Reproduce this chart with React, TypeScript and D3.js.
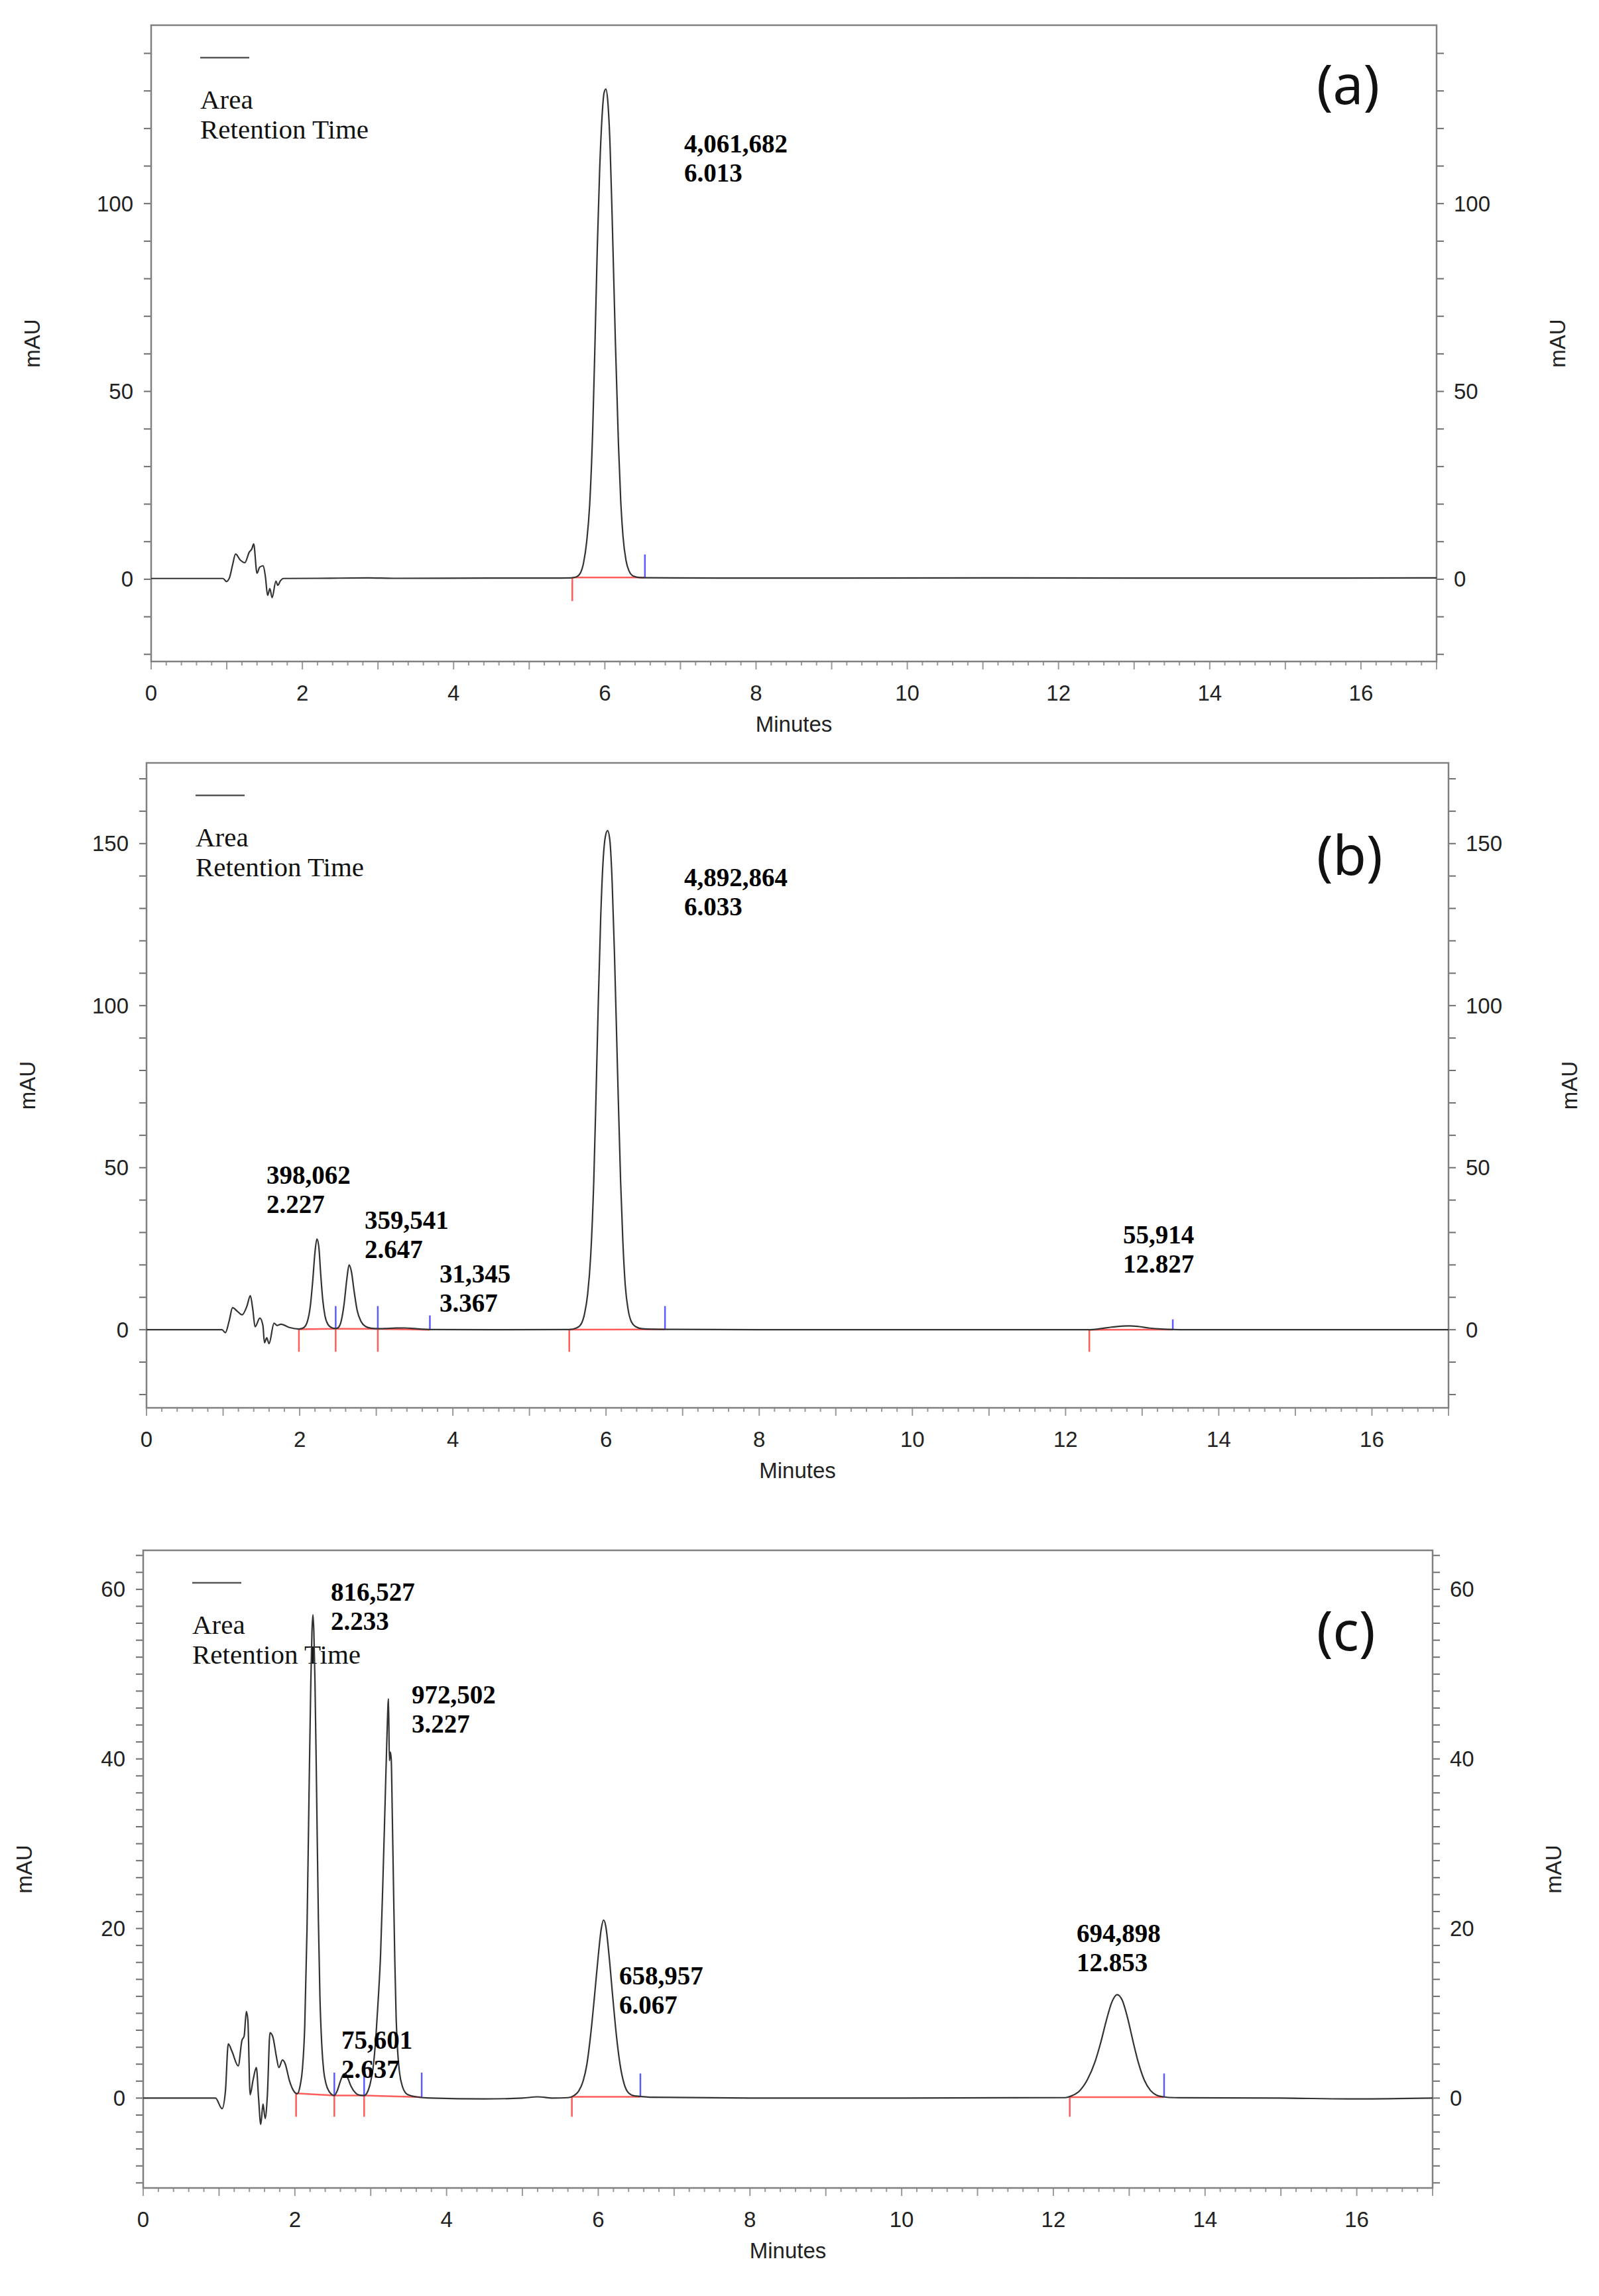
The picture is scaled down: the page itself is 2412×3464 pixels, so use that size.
import React from 'react';
import * as d3 from 'd3';

type Pt = [number, number];

// ---------- tick labels / texts ----------
const xTickLabels = [0, 2, 4, 6, 8, 10, 12, 14, 16];
const yTickLabelsA = [0, 50, 100];
const yTickLabelsB = [0, 50, 100, 150];
const yTickLabelsC = [0, 20, 40, 60];
const legendTexts = ['Area', 'Retention Time'];
const panelLabels = ['(a)', '(b)', '(c)'];

// ---------- traces: [minutes, mAU] ----------
const traceA: Pt[] = [
  [0, 0.2], [0.5, 0.2], [0.95, 0.2], [0.996, -0.6], [1.034, 0.3], [1.078, 3.9], [1.116, 6.7], [1.179, 5.1],
  [1.239, 4.4], [1.297, 7.2], [1.332, 8.1], [1.356, 9.4], [1.4, 1.6], [1.435, 3.2], [1.482, 3.6], [1.511, 0.7],
  [1.54, -4.3], [1.57, -2.5], [1.6, -4.9], [1.65, -0.5], [1.675, -1.6], [1.71, -0.4], [1.75, 0.2], [2.2, 0.25],
  [2.87, 0.35], [3.2, 0.25], [4.5, 0.3], [5.3, 0.3], [5.55, 0.35], [5.62, 0.6], [5.68, 1.8], [5.72, 4.5],
  [5.76, 10], [5.8, 20], [5.84, 40], [5.87, 63], [5.9, 88], [5.93, 108], [5.96, 122], [5.99, 129.5],
  [6.013, 130.5], [6.04, 127], [6.07, 115], [6.1, 94], [6.14, 63], [6.18, 36], [6.21, 21], [6.24, 11.5],
  [6.28, 5], [6.32, 2.2], [6.38, 0.8], [6.46, 0.45], [6.55, 0.4], [7.5, 0.3], [9, 0.3], [11, 0.35],
  [13, 0.3], [15, 0.3], [17, 0.35],
];

const traceB: Pt[] = [
  [0, 0], [0.6, 0], [0.985, 0], [1.03, -0.9], [1.08, 2.8], [1.124, 6.8], [1.186, 5.7], [1.248, 4.6],
  [1.31, 7.2], [1.356, 10.5], [1.387, 6.4], [1.418, 0.9], [1.48, 3.6], [1.52, 1.3], [1.54, -4.0], [1.57, -2.5],
  [1.6, -4.3], [1.665, 2.0], [1.705, 1.3], [1.757, 1.7], [1.865, 0.7], [1.99, 0.2], [2.05, 0.6], [2.1, 2.5],
  [2.14, 7.5], [2.17, 15], [2.2, 24], [2.225, 28], [2.25, 25.5], [2.275, 17], [2.3, 9.5], [2.33, 4.3],
  [2.37, 1.6], [2.42, 0.6], [2.47, 0.35], [2.5, 0.6], [2.54, 2.5], [2.58, 8], [2.615, 15.5], [2.645, 20],
  [2.675, 18], [2.71, 12], [2.75, 6], [2.8, 2.6], [2.86, 1.0], [2.93, 0.45], [3.02, 0.3], [3.1, 0.35],
  [3.25, 0.5], [3.37, 0.55], [3.5, 0.35], [3.6, 0.15], [3.7, 0.05], [4.5, 0], [5.52, 0.05], [5.62, 0.6],
  [5.68, 2], [5.72, 5], [5.76, 11], [5.8, 23], [5.84, 46], [5.87, 73], [5.9, 102], [5.93, 127],
  [5.96, 144], [5.99, 152], [6.02, 154], [6.05, 151], [6.08, 138], [6.11, 116], [6.15, 80], [6.19, 46],
  [6.22, 27], [6.25, 14], [6.29, 6], [6.33, 2.5], [6.39, 0.9], [6.47, 0.3], [6.6, 0.15], [6.8, 0.1],
  [8, 0], [10, 0], [12.31, 0], [12.45, 0.3], [12.6, 0.8], [12.75, 1.15], [12.83, 1.2], [12.95, 1.0],
  [13.1, 0.5], [13.25, 0.2], [13.4, 0.05], [13.6, 0], [15, 0], [17, 0],
];

const traceC: Pt[] = [
  [0, 0], [0.6, 0], [0.953, 0], [1.04, -1.25], [1.084, 0.8], [1.122, 6.4], [1.171, 5.5], [1.253, 3.8],
  [1.302, 6.8], [1.331, 7.3], [1.36, 10.2], [1.38, 9.2], [1.41, 0.4], [1.448, 2.1], [1.492, 3.6], [1.521, 0],
  [1.55, -3.1], [1.58, -0.7], [1.608, -2.4], [1.637, 0.3], [1.672, 7.7], [1.71, 7.2], [1.754, 5.0], [1.789, 3.6],
  [1.836, 4.5], [1.87, 4.1], [1.93, 2.0], [1.987, 0.8], [2.03, 0.5], [2.07, 1.5], [2.1, 3.5], [2.13, 8.5],
  [2.16, 20], [2.19, 38], [2.21, 49], [2.225, 55], [2.238, 57], [2.25, 55], [2.265, 49], [2.285, 37],
  [2.31, 21], [2.33, 12], [2.355, 6.2], [2.38, 3.2], [2.41, 1.7], [2.45, 0.8], [2.49, 0.4], [2.52, 0.3],
  [2.56, 0.9], [2.6, 2.0], [2.64, 2.8], [2.665, 2.9], [2.7, 2.3], [2.74, 1.4], [2.8, 0.6], [2.85, 0.35],
  [2.913, 0.3], [2.95, 0.6], [2.99, 1.6], [3.03, 3.5], [3.07, 7.5], [3.1, 11.8], [3.13, 17], [3.16, 25.5],
  [3.19, 35], [3.215, 43], [3.234, 47.1], [3.246, 39.8], [3.258, 40.8], [3.27, 40], [3.285, 33], [3.3, 25],
  [3.318, 16], [3.335, 9.5], [3.355, 5.5], [3.38, 3.0], [3.42, 1.3], [3.46, 0.6], [3.52, 0.3], [3.6, 0.15],
  [3.8, 0], [4.5, -0.1], [5.0, 0], [5.2, 0.15], [5.4, 0], [5.6, 0.05], [5.68, 0.3], [5.74, 0.8],
  [5.8, 2.0], [5.85, 4.0], [5.9, 7.5], [5.95, 12], [6.0, 16.8], [6.04, 20], [6.07, 21], [6.1, 20.2],
  [6.14, 17], [6.19, 12], [6.24, 7.3], [6.29, 3.8], [6.34, 1.7], [6.4, 0.6], [6.48, 0.25], [6.55, 0.2],
  [6.7, 0.1], [8, 0], [10, 0], [12.15, 0.05], [12.25, 0.3], [12.35, 0.9], [12.45, 2.2], [12.55, 4.3],
  [12.62, 6.4], [12.7, 9.2], [12.77, 11.3], [12.84, 12.2], [12.91, 11.5], [12.98, 9.4], [13.05, 6.7], [13.12, 4.2],
  [13.2, 2.1], [13.28, 0.9], [13.36, 0.35], [13.45, 0.15], [13.6, 0.05], [15, 0], [16, -0.1], [17, 0],
];

// ---------- integration baselines (red) ----------
const redSegA: Pt[][] = [[[5.57, 0.45], [6.53, 0.45]]];
const redSegB: Pt[][] = [
  [[1.99, 0.15], [2.47, 0.3], [3.02, 0.25], [3.7, 0.0]],
  [[5.52, 0.05], [6.77, 0.1]],
  [[12.31, 0.0], [13.4, 0.05]],
];
const redSegC: Pt[][] = [
  [[2.016, 0.55], [2.52, 0.3], [2.913, 0.3], [3.672, 0.1]],
  [[5.652, 0.15], [6.555, 0.15]],
  [[12.216, 0.1], [13.46, 0.1]],
];

// peak start markers [minutes, from mAU, to mAU]
const redTicksA: [number, number, number][] = [[5.57, 0.45, -5.8]];
const redTicksB: [number, number, number][] = [
  [1.99, 0.15, -6.8], [2.47, 0.3, -6.8], [3.02, 0.25, -6.8], [5.52, 0.05, -6.8], [12.31, 0, -6.8],
];
const redTicksC: [number, number, number][] = [
  [2.016, 0.55, -2.2], [2.52, 0.3, -2.2], [2.913, 0.3, -2.2], [5.652, 0.15, -2.2], [12.216, 0.1, -2.2],
];
// peak end markers
const blueTicksA: [number, number, number][] = [[6.53, 0.45, 6.6]];
const blueTicksB: [number, number, number][] = [
  [2.47, 0.3, 7.3], [3.02, 0.25, 7.3], [3.7, 0.0, 4.4], [6.77, 0.1, 7.3], [13.4, 0.05, 3.2],
];
const blueTicksC: [number, number, number][] = [
  [2.52, 0.3, 3.0], [2.913, 0.3, 3.0], [3.672, 0.1, 3.0], [6.555, 0.15, 2.9], [13.46, 0.1, 2.9],
];

// ---------- peak annotations: anchor [minutes, mAU], area, retention time ----------
const annotA = [{ t: 7.05, v: 116.1, area: '4,061,682', rt: '6.013' }];
const annotB = [
  { t: 1.567, v: 47.9, area: '398,062', rt: '2.227' },
  { t: 2.848, v: 34.0, area: '359,541', rt: '2.647' },
  { t: 3.826, v: 17.3, area: '31,345', rt: '3.367' },
  { t: 7.02, v: 139.7, area: '4,892,864', rt: '6.033' },
  { t: 12.75, v: 29.5, area: '55,914', rt: '12.827' },
];
const annotC = [
  { t: 2.474, v: 59.75, area: '816,527', rt: '2.233' },
  { t: 3.54, v: 47.63, area: '972,502', rt: '3.227' },
  { t: 2.613, v: 6.9, area: '75,601', rt: '2.637' },
  { t: 6.276, v: 14.5, area: '658,957', rt: '6.067' },
  { t: 12.307, v: 19.5, area: '694,898', rt: '12.853' },
];

// ---------- layout (pixels) ----------
const W = 2412;
const H = 3464;
const X_MAX = 17;

const panels = [
  {
    left: 228, right: 2167, top: 38, bottom: 998, yMin: -21.9, yMax: 147.5, minor: 10,
    yLabels: yTickLabelsA, trace: traceA, red: redSegA, redTicks: redTicksA, blueTicks: blueTicksA,
    annot: annotA, label: panelLabels[0], labelBase: 157,
  },
  {
    left: 221, right: 2185, top: 1151, bottom: 2124, yMin: -24.1, yMax: 174.9, minor: 10,
    yLabels: yTickLabelsB, trace: traceB, red: redSegB, redTicks: redTicksB, blueTicks: blueTicksB,
    annot: annotB, label: panelLabels[1], labelBase: 1320,
  },
  {
    left: 216, right: 2161, top: 2339, bottom: 3301, yMin: -10.6, yMax: 64.6, minor: 2,
    yLabels: yTickLabelsC, trace: traceC, red: redSegC, redTicks: redTicksC, blueTicks: blueTicksC,
    annot: annotC, label: panelLabels[2], labelBase: 2490,
  },
];

const SANS = '"Liberation Sans", Arial, Helvetica, sans-serif';
const SERIF = '"Liberation Serif", "Times New Roman", serif';
const FRAME = '#808080';
const RED = '#ff5c5c';
const BLUE = '#5b5bff';

function Panel({ p }: { p: typeof panels[number] }) {
  const x = d3.scaleLinear().domain([0, X_MAX]).range([p.left, p.right]);
  const y = d3.scaleLinear().domain([p.yMin, p.yMax]).range([p.bottom, p.top]);
  const line = d3.line<Pt>().x(d => x(d[0])).y(d => y(d[1])).curve(d3.curveMonotoneX);
  const segLine = d3.line<Pt>().x(d => x(d[0])).y(d => y(d[1]));

  const yTicks = d3.range(Math.ceil(p.yMin / p.minor) * p.minor, p.yMax + 1e-9, p.minor);
  const xTicks = d3.range(0, 86).map(i => i / 5).filter(v => v <= X_MAX + 1e-9);
  const cy = (p.top + p.bottom) / 2;
  const cx = (p.left + p.right) / 2;

  return (
    <g>
      {/* y ticks left & right */}
      {yTicks.map((v, i) => (
        <g key={'yt' + i}>
          <line x1={p.left - 11} x2={p.left} y1={y(v)} y2={y(v)} stroke="#6e6e6e" strokeWidth={2} />
          <line x1={p.right} x2={p.right + 11} y1={y(v)} y2={y(v)} stroke="#6e6e6e" strokeWidth={2} />
        </g>
      ))}
      {p.yLabels.map(v => (
        <g key={'yl' + v}>
          <text x={p.left - 27} y={y(v)} dy="0.35em" textAnchor="end" fontFamily={SANS} fontSize={33} fill="#222">{v}</text>
          <text x={p.right + 26} y={y(v)} dy="0.35em" textAnchor="start" fontFamily={SANS} fontSize={33} fill="#222">{v}</text>
        </g>
      ))}
      {/* x ticks */}
      {xTicks.map((v, i) => {
        const major = Math.abs(v - Math.round(v)) < 1e-6;
        return (
          <line key={'xt' + i} x1={x(v)} x2={x(v)} y1={p.bottom} y2={p.bottom + (major ? 12 : 6)}
            stroke="#9a9a9a" strokeWidth={2} />
        );
      })}
      {xTickLabels.map(v => (
        <text key={'xl' + v} x={x(v)} y={p.bottom + 47} dy="0.35em" textAnchor="middle" fontFamily={SANS} fontSize={33} fill="#222">{v}</text>
      ))}
      <text x={cx} y={p.bottom + 94} dy="0.35em" textAnchor="middle" fontFamily={SANS} fontSize={33} fill="#222">Minutes</text>
      <text transform={`translate(${p.left - 180},${cy}) rotate(-90)`} dy="0.35em" textAnchor="middle" fontFamily={SANS} fontSize={33} fill="#222">mAU</text>
      <text transform={`translate(${p.right + 182},${cy}) rotate(-90)`} dy="0.35em" textAnchor="middle" fontFamily={SANS} fontSize={33} fill="#222">mAU</text>

      {/* frame */}
      <rect x={p.left} y={p.top} width={p.right - p.left} height={p.bottom - p.top} fill="none" stroke={FRAME} strokeWidth={2.5} />

      {/* legend */}
      <line x1={p.left + 74} x2={p.left + 148} y1={p.top + 49} y2={p.top + 49} stroke="#555" strokeWidth={2.5} />
      {legendTexts.map((t, i) => (
        <text key={'lg' + i} x={p.left + 74} y={p.top + 112 + i * 45} dy="0.35em" fontFamily={SERIF} fontSize={41} fill="#111">{t}</text>
      ))}

      {/* integration baselines */}
      {p.red.map((seg, i) => (
        <path key={'rs' + i} d={segLine(seg) || ''} fill="none" stroke={RED} strokeWidth={2.5} />
      ))}
      {p.redTicks.map((d, i) => (
        <line key={'rt' + i} x1={x(d[0])} x2={x(d[0])} y1={y(d[1])} y2={y(d[2])} stroke={RED} strokeWidth={2.5} />
      ))}
      {p.blueTicks.map((d, i) => (
        <line key={'bt' + i} x1={x(d[0])} x2={x(d[0])} y1={y(d[1])} y2={y(d[2])} stroke={BLUE} strokeWidth={2.5} />
      ))}

      {/* trace */}
      <path d={line(p.trace) || ''} fill="none" stroke="#333" strokeWidth={2.2} strokeLinejoin="round" />

      {/* annotations */}
      {p.annot.map((a, i) => (
        <g key={'an' + i}>
          <text x={x(a.t)} y={y(a.v)} dy="0.35em" fontFamily={SERIF} fontWeight="bold" fontSize={39} fill="#000">{a.area}</text>
          <text x={x(a.t)} y={y(a.v) + 44} dy="0.35em" fontFamily={SERIF} fontWeight="bold" fontSize={39} fill="#000">{a.rt}</text>
        </g>
      ))}

      {/* panel label */}
      <text x={1986} y={p.labelBase} fontFamily={'"Noto Sans", "Open Sans", sans-serif'} fontSize={82} fill="#111">{p.label}</text>
    </g>
  );
}

export default function App() {
  return (
    <svg width={W} height={H} viewBox={`0 0 ${W} ${H}`}
      style={{ position: 'absolute', left: 0, top: 0, display: 'block', background: '#fff' }}>
      <rect x={0} y={0} width={W} height={H} fill="#fff" />
      {panels.map((p, i) => <Panel key={i} p={p} />)}
    </svg>
  );
}
